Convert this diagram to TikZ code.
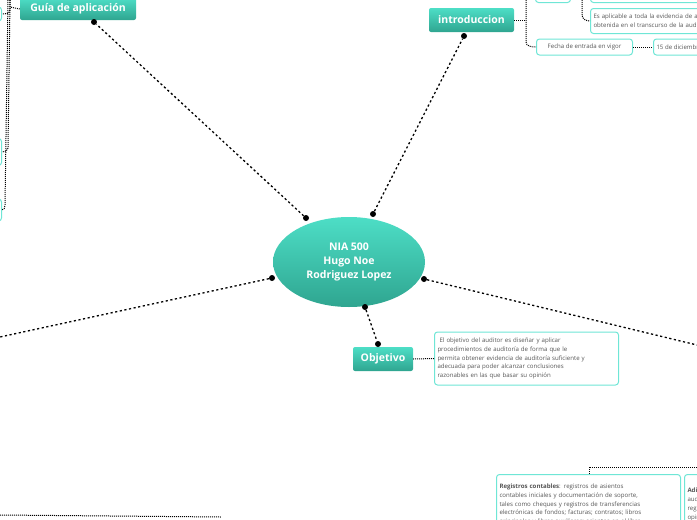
\documentclass[tikz,border=0pt]{standalone}
\usepackage{fontspec}
\setmainfont{Open Sans}
\usetikzlibrary{shapes.geometric}
\definecolor{tealA}{HTML}{4DDEC6}
\definecolor{tealB}{HTML}{2FA590}
\definecolor{bord}{HTML}{6FE6D6}
\definecolor{txt}{HTML}{555555}
\tikzset{
 x=1pt,y=-1pt,
 topic/.style={rounded corners=2pt,top color=tealA,bottom color=tealB,text=white,font=\bfseries\fontsize{10.5}{12}\selectfont,inner sep=0pt},
 leaf/.style={draw=bord,line width=1pt,rounded corners=3pt,fill=white,text=txt,font=\fontsize{6.1}{8.8}\selectfont,inner sep=0pt,align=left},
 conn/.style={densely dotted,line width=1pt},
 big/.style={dashed,dash pattern=on 2.2pt off 2.5pt,line width=1.3pt},
 dot/.style={circle,fill=black,inner sep=0pt,minimum size=6pt}
}
\begin{document}
\begin{tikzpicture}
\useasboundingbox (0,0) rectangle (697,520);
\clip (0,0) rectangle (697,520);
% center
\node[ellipse,top color=tealA,bottom color=tealB,minimum width=152pt,minimum height=90pt,text=white,font=\bfseries\fontsize{10.5}{14}\selectfont,align=center,inner sep=0pt] (c) at (349,262) {NIA 500\\Hugo Noe\\Rodriguez Lopez};
% topics
\node[topic,minimum width=116pt,minimum height=22pt] (g) at (78,9) {Guía de aplicación};
\node[topic,minimum width=85pt,minimum height=24pt] (i) at (471.5,20) {introduccion};
\node[topic,minimum width=60pt,minimum height=24pt] (o) at (383,359) {Objetivo};
% dots
\node[dot] (d1) at (306,218) {}; \node[dot] (d2) at (94,22) {};
\node[dot] (d3) at (373,214) {}; \node[dot] (d4) at (464,36) {};
\node[dot] (d5) at (365,307) {}; \node[dot] (d6) at (378,344) {};
\node[dot] (d7) at (272,278) {}; \node[dot] (d8) at (424,279) {};
\coordinate (lft) at (0,337); \coordinate (rgt) at (697,345);
\draw[big] (d1)--(d2); \draw[big] (d3)--(d4); \draw[big] (d5)--(d6);
\draw[big] (d7)--(lft); \draw[big] (d8)--(rgt);
% objetivo leaf
\node[leaf,text width=178pt,minimum height=53pt,inner xsep=3pt,anchor=west] (ol) at (434,358.5) {\ El objetivo del auditor es diseñar y aplicar\\procedimientos de auditoría de forma que le\\permita obtener evidencia de auditoría suficiente y\\adecuada para poder alcanzar conclusiones\\razonables en las que basar su opinión};
\draw[conn] (o.east)--(ol.west);
% introduccion branches
\node[leaf,minimum width=96pt,minimum height=16pt,inner xsep=3pt,anchor=west] (f) at (536,47) {Fecha de entrada en vigor};
\node[leaf,minimum width=60pt,minimum height=16pt,inner xsep=3pt,anchor=west] (f2) at (653,47) {15 de diciembre de 2009};
\node[leaf,minimum width=35pt,minimum height=16pt,anchor=south west] (t1) at (535,3) {};
\node[leaf,minimum width=120pt,minimum height=16pt,anchor=south west] (t2) at (590,3) {};
\node[leaf,text width=170pt,minimum height=25pt,inner xsep=3pt,anchor=north west] (e) at (590,8) {Es aplicable a toda la evidencia de auditoría\\obtenida en el transcurso de la auditoría};
\coordinate (ib) at (526,20);
\draw[conn] (i.east)--(ib);
\draw[conn] (526,-2)--(526,42) to[out=-90,in=180] (f.west);
\draw[conn] (f.east)--(f2.west);
\draw[conn] (582,-2)--(582,15) to[out=-90,in=180] (e.west);
% guia branches
\node[leaf,minimum width=20pt,minimum height=14pt,anchor=east] (l1) at (2,14) {};
\node[leaf,minimum width=20pt,minimum height=27pt,anchor=east] (l2) at (2,152) {};
\node[leaf,minimum width=20pt,minimum height=22pt,anchor=east] (l3) at (2,210) {};
\draw[conn] (g.west)--(10,7);
\draw[conn] (10,0)--(10,10) to[out=-90,in=0] (l1.east);
\draw[conn] (10,0)--(8,148) to[out=-90,in=0] (l2.east);
\draw[conn] (8,0)--(5,205) to[out=-90,in=0] (l3.east);
% bottom
\coordinate (bl) at (0,515); \coordinate (br) at (221,517);
\draw[conn] (bl)--(br);
% registros
\node[leaf,text width=178pt,minimum height=60pt,inner xsep=3pt,inner ysep=4pt,anchor=north west] (r) at (496,474) {\textbf{Registros contables}: registros de asientos\\contables iniciales y documentación de soporte,\\tales como cheques y registros de transferencias\\electrónicas de fondos; facturas; contratos; libros\\principales y libros auxiliares; asientos en el libro};
\node[leaf,text width=60pt,minimum height=60pt,inner xsep=3pt,inner ysep=4pt,anchor=north west] (r2) at (684,474) {\textbf{Adicional}\\auditoría\\registros\\opiniones};
\draw[conn] (697,467)--(589,467)--(r.north -| 589,0);
\end{tikzpicture}
\end{document}
